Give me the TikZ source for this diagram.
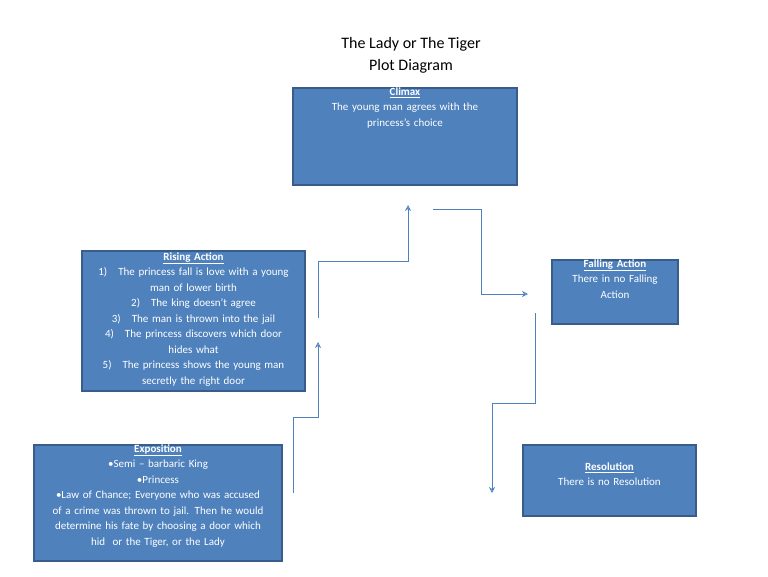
\documentclass[tikz,border=0pt]{standalone}
\usepackage{fontspec}
\setmainfont{Carlito}
\usetikzlibrary{arrows.meta}
\definecolor{boxfill}{HTML}{4F81BD}
\definecolor{boxline}{HTML}{385D8A}
\begin{document}
\begin{tikzpicture}[x=1pt,y=-1pt,
  box/.style={draw=boxline,line width=1.2pt,fill=boxfill,inner sep=0pt},
  txt/.style={text=white,align=center,inner sep=2pt,font=\fontsize{11}{15.5}\selectfont},
  conn/.style={draw=boxfill,line width=0.8pt,-{Stealth[length=6pt,width=6pt,open]}}]
\useasboundingbox (0,0) rectangle (768,576);
\node[font=\fontsize{16}{22}\selectfont,align=center] (title) at (411,55) {The Lady or The Tiger\\Plot Diagram};
\node[box,minimum width=224,minimum height=97] (climax) at (405,136.5) {};
\node[txt,anchor=north,text width=215] (climaxt) at ([yshift=2]climax.north) {\textbf{\underline{Climax}}\\The young man agrees with the\\princess’s choice};
\node[box,minimum width=223,minimum height=140] (rising) at (193.5,321) {};
\node[txt,anchor=north,text width=220] (risingt) at ([yshift=0]rising.north) {\textbf{\underline{Rising Action}}\\1)\ \ \ The princess fall is love with a young\\man of lower birth\\2)\ \ \ The king doesn’t agree\\3)\ \ \ The man is thrown into the jail\\4)\ \ \ The princess discovers which door\\hides what\\5)\ \ \ The princess shows the young man\\secretly the right door};
\node[box,minimum width=248,minimum height=116] (expo) at (158,503) {};
\node[txt,anchor=north,text width=245] (expot) at ([yshift=2]expo.north) {\textbf{\underline{Exposition}}\\•Semi – barbaric King\\•Princess\\•Law of Chance; Everyone who was accused\\of a crime was thrown to jail. Then he would\\determine his fate by choosing a door which\\hid\ \ or the Tiger, or the Lady};
\node[box,minimum width=126,minimum height=64] (fall) at (615,292) {};
\node[txt,anchor=north,text width=122] (fallt) at ([yshift=2]fall.north) {\textbf{\underline{Falling Action}}\\There in no Falling\\Action};
\node[box,minimum width=173,minimum height=71] (res) at (609.5,480.5) {};
\node[txt,anchor=north,text width=170] (rest) at ([yshift=-16]res.north) {\textbf{\underline{Resolution}}\\There is no Resolution};
\coordinate (a1) at (293,493); \coordinate (a2) at (318,342);
\coordinate (b1) at (318,318); \coordinate (b2) at (408,205);
\coordinate (c1) at (433,209); \coordinate (c2) at (528,294);
\coordinate (d1) at (535,313); \coordinate (d2) at (492,493);
\draw[conn] (a1) -- (293,417) -- (318,417) -- (a2);
\draw[conn] (b1) -- (318,261) -- (408,261) -- (b2);
\draw[conn] (c1) -- (481,209) -- (481,294) -- (c2);
\draw[conn] (d1) -- (535,403) -- (492,403) -- (d2);
\end{tikzpicture}
\end{document}
